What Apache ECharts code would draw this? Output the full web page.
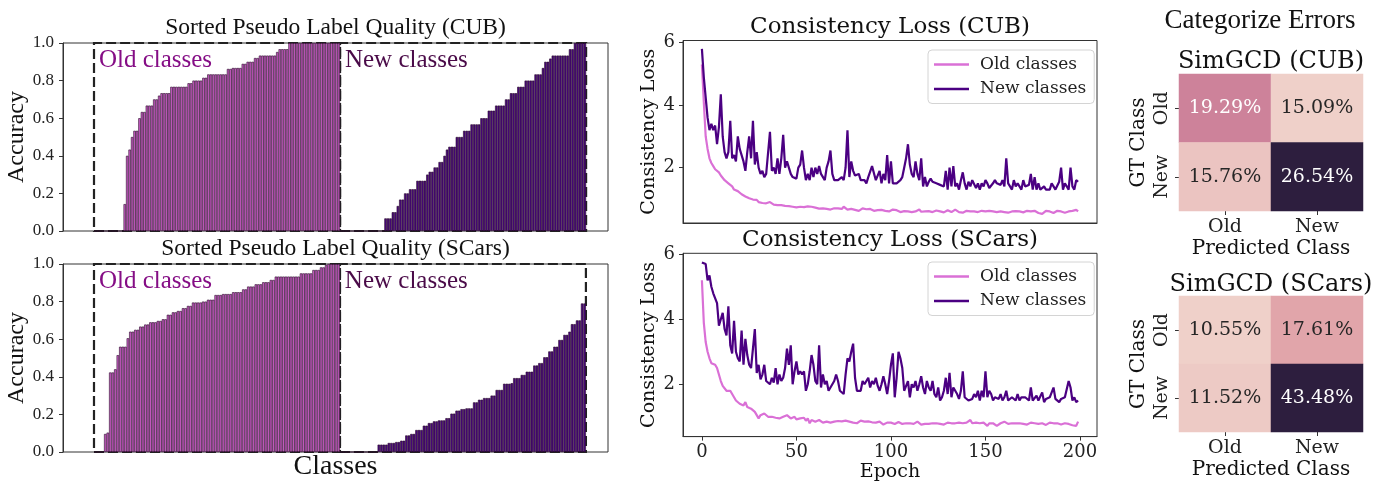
<!DOCTYPE html>
<html>
<head>
<meta charset="utf-8">
<title>Pseudo label quality, consistency loss, categorize errors</title>
<script src="https://cdn.jsdelivr.net/npm/echarts@6/dist/echarts.min.js"></script>
<style>
  html, body { margin: 0; padding: 0; background: #fff; }
  #chart { width: 1376px; height: 492px; }
</style>
</head>
<body>
<div id="chart"></div>
<script>
// sorted per-class pseudo label accuracy (old classes first, then new classes)
const cubOldAcc = [
  0, 0, 0, 0, 0, 0, 0, 0, 0, 0, 0, 0,
  0.143, 0.4, 0.433, 0.5, 0.533, 0.533, 0.6, 0.633, 0.633, 0.667,
  0.667, 0.667, 0.7, 0.7, 0.72, 0.733, 0.733, 0.733, 0.733,
  0.767, 0.767, 0.767, 0.767, 0.767, 0.767, 0.767, 0.786, 0.786,
  0.8, 0.8, 0.8, 0.8, 0.815, 0.815,
  0.833, 0.833, 0.833, 0.833, 0.833, 0.833, 0.833, 0.833, 0.862, 0.862,
  0.867, 0.867, 0.867, 0.867, 0.889, 0.889, 0.9, 0.9, 0.9, 0.92, 0.92,
  0.933, 0.933, 0.933, 0.933, 0.933, 0.933, 0.933, 0.952,
  0.967, 0.967, 0.967, 0.967,
  1, 1, 1, 1, 1, 1, 1, 1, 1, 1, 1, 1, 1, 1, 1, 1, 1, 1, 1, 1, 1,
];
const cubNewAcc = [
  0, 0, 0, 0, 0, 0, 0, 0, 0, 0, 0, 0, 0, 0, 0, 0, 0, 0,
  0.067, 0.067, 0.067, 0.1, 0.1, 0.133, 0.167, 0.167, 0.2, 0.2,
  0.222, 0.222, 0.222, 0.267, 0.267, 0.267, 0.267, 0.3, 0.315, 0.315,
  0.338, 0.338, 0.367, 0.367, 0.4, 0.433, 0.448, 0.448, 0.448,
  0.5, 0.5, 0.5, 0.533, 0.533, 0.533, 0.567, 0.567, 0.567, 0.567,
  0.6, 0.6, 0.6, 0.64, 0.64, 0.64, 0.667, 0.667, 0.667, 0.667,
  0.7, 0.7, 0.733, 0.733, 0.733, 0.767, 0.767, 0.767,
  0.8, 0.8, 0.8, 0.8, 0.833, 0.833, 0.833, 0.867, 0.9, 0.9, 0.917,
  0.933, 0.933, 0.933, 0.933, 0.933, 0.933, 0.933, 0.967, 0.967,
  1, 1, 1, 1, 1,
];
const scarsOldAcc = [
  0, 0, 0, 0,
  0.096, 0.103, 0.423, 0.423, 0.44, 0.515, 0.56, 0.56, 0.56, 0.605,
  0.64, 0.64, 0.65, 0.65, 0.667, 0.667, 0.678, 0.678, 0.69, 0.69, 0.69,
  0.697, 0.697, 0.706, 0.706, 0.73, 0.73, 0.743, 0.743, 0.75, 0.75,
  0.765, 0.765, 0.777, 0.777, 0.795, 0.795, 0.795, 0.795, 0.8, 0.8,
  0.81, 0.81, 0.81, 0.835, 0.835, 0.835, 0.84, 0.84, 0.84, 0.84,
  0.85, 0.85, 0.85, 0.85, 0.865, 0.865, 0.88, 0.88, 0.88,
  0.892, 0.892, 0.892, 0.903, 0.903, 0.903, 0.915, 0.915,
  0.933, 0.933, 0.933, 0.933, 0.933, 0.933, 0.933, 0.933, 0.933, 0.933,
  0.95, 0.95, 0.95, 0.95, 0.95, 0.968, 0.968, 0.968, 0.982, 0.982, 0.995,
  1, 1, 1, 1, 1,
];
const scarsNewAcc = [
  0, 0, 0, 0, 0, 0, 0, 0, 0, 0, 0, 0, 0, 0, 0,
  0.039, 0.039, 0.039, 0.039, 0.048, 0.048, 0.048, 0.053, 0.053,
  0.06, 0.06, 0.088, 0.088, 0.096, 0.096, 0.117, 0.117, 0.117,
  0.14, 0.14, 0.154, 0.154, 0.163, 0.163, 0.168, 0.168, 0.168,
  0.18, 0.18, 0.204, 0.204, 0.22, 0.22, 0.228, 0.228, 0.232, 0.232, 0.232,
  0.264, 0.264, 0.278, 0.278, 0.287, 0.287, 0.287, 0.3, 0.3,
  0.33, 0.33, 0.33, 0.363, 0.363, 0.363, 0.366, 0.393, 0.393, 0.393,
  0.41, 0.41, 0.427, 0.427, 0.427, 0.46, 0.46, 0.473, 0.473,
  0.504, 0.504, 0.535, 0.535, 0.56, 0.56, 0.596, 0.596, 0.623, 0.623,
  0.64, 0.68, 0.68, 0.7, 0.7, 0.79, 0.79,
];

// consistency loss per epoch (0..199)
const cubOldLoss = [
  5.3, 4.1, 3.0, 2.6, 2.3, 2.15, 2.05, 1.95, 1.9, 1.85,
  1.75, 1.7, 1.6, 1.55, 1.5, 1.45, 1.4, 1.3, 1.28, 1.25,
  1.2, 1.15, 1.1, 1.08, 1.05, 1.02, 1.0, 0.98, 0.95, 0.97,
  0.9, 0.88, 0.87, 0.88, 0.86, 0.87, 0.9, 0.85, 0.82, 0.8,
  0.8, 0.78, 0.8, 0.77, 0.78, 0.75, 0.77, 0.74, 0.75, 0.76,
  0.73, 0.77, 0.75, 0.78, 0.74, 0.72, 0.76, 0.73, 0.75, 0.7,
  0.72, 0.74, 0.69, 0.72, 0.7, 0.74, 0.68, 0.7, 0.66, 0.72,
  0.7, 0.66, 0.7, 0.72, 0.68, 0.75, 0.7, 0.66, 0.72, 0.68,
  0.7, 0.65, 0.68, 0.62, 0.66, 0.7, 0.64, 0.67, 0.63, 0.68,
  0.65, 0.62, 0.66, 0.64, 0.6, 0.65, 0.68, 0.62, 0.64, 0.6,
  0.63, 0.66, 0.6, 0.64, 0.62, 0.58, 0.63, 0.61, 0.65, 0.6,
  0.62, 0.58, 0.64, 0.6, 0.62, 0.66, 0.59, 0.62, 0.6, 0.57,
  0.61, 0.64, 0.58, 0.6, 0.63, 0.58, 0.6, 0.62, 0.57, 0.6,
  0.64, 0.6, 0.58, 0.62, 0.66, 0.6, 0.58, 0.62, 0.56, 0.6,
  0.62, 0.58, 0.6, 0.55, 0.6, 0.63, 0.58, 0.6, 0.62, 0.57,
  0.6, 0.58, 0.62, 0.56, 0.6, 0.64, 0.58, 0.55, 0.6, 0.62,
  0.58, 0.6, 0.56, 0.62, 0.6, 0.58, 0.61, 0.57, 0.6, 0.63,
  0.57, 0.6, 0.62, 0.56, 0.6, 0.58, 0.62, 0.6, 0.55, 0.6,
  0.52, 0.58, 0.62, 0.57, 0.6, 0.58, 0.55, 0.6, 0.62, 0.57,
  0.6, 0.58, 0.56, 0.62, 0.6, 0.57, 0.62, 0.6, 0.65, 0.6,
];
const cubNewLoss = [
  5.8, 4.9, 4.9, 3.6, 3.2, 3.4, 3.2, 3.35, 2.75, 3.3,
  4.35, 3.0, 2.5, 2.3, 2.5, 3.5, 2.3, 2.4, 2.2, 3.0,
  2.6, 2.6, 2.2, 1.9, 2.5, 3.0, 2.3, 3.5, 2.1, 2.5,
  2.0, 1.8, 1.9, 1.7, 1.8, 1.8, 3.15, 1.9, 2.0, 1.8,
  2.3, 1.8, 2.3, 3.05, 2.0, 2.2, 2.0, 1.8, 1.7, 1.7,
  1.65, 2.0, 2.1, 2.55, 2.0, 1.6, 1.8, 1.6, 2.0, 1.7,
  2.0, 1.8, 2.05, 1.8, 1.85, 1.6, 2.0, 2.2, 2.55, 1.8,
  1.6, 1.65, 1.6, 1.55, 1.7, 1.6, 2.0, 3.2, 1.7, 2.2,
  1.9, 1.75, 1.7, 1.8, 1.6, 1.55, 1.6, 1.5, 1.7, 1.7,
  2.05, 2.1, 1.6, 1.55, 1.9, 1.5, 1.8, 1.6, 2.4, 1.5,
  2.2, 1.5, 1.55, 1.5, 1.55, 1.6, 1.7, 2.0, 2.3, 2.75,
  2.1, 1.8, 1.7, 2.2, 1.8, 1.6, 2.3, 1.4, 1.7, 1.4,
  1.55, 1.65, 1.55, 1.5, 1.5, 1.5, 1.45, 1.4, 1.4, 1.9,
  1.3, 2.0, 1.4, 2.05, 1.4, 1.5, 1.3, 1.6, 1.85, 1.5,
  1.3, 1.55, 1.4, 1.6, 1.6, 1.35, 1.5, 1.3, 1.5, 1.4,
  1.6, 1.5, 1.35, 1.3, 1.5, 1.6, 1.5, 1.55, 1.45, 1.6,
  1.4, 2.3, 1.5, 1.4, 1.3, 1.6, 1.4, 1.5, 1.4, 1.3,
  1.6, 1.4, 1.35, 1.45, 1.8, 1.3, 1.7, 1.3, 1.5, 1.3,
  1.35, 1.4, 1.3, 1.35, 1.3, 1.5, 1.4, 1.3, 1.35, 1.55,
  2.0, 1.3, 1.5, 1.4, 1.3, 2.0, 1.4, 1.3, 1.6, 1.55,
];
const scarsOldLoss = [
  5.2, 3.9, 3.3, 3.0, 2.8, 2.65, 2.6, 2.6, 2.5, 2.3,
  2.1, 1.95, 1.9, 1.8, 1.75, 1.8, 1.75, 1.6, 1.5, 1.45,
  1.4, 1.45, 1.35, 1.45, 1.3, 1.3, 1.25, 1.2, 1.15, 1.05,
  0.95, 1.05, 1.0, 1.1, 1.05, 1.0, 0.95, 1.0, 0.95, 0.97,
  1.0, 0.95, 0.9, 1.0, 0.98, 1.05, 1.1, 0.95, 0.92, 1.0,
  0.92, 0.97, 0.95, 0.9, 0.97, 0.88, 0.95, 0.8, 0.9, 0.95,
  0.85, 0.88, 0.9, 0.85, 0.82, 0.88, 0.85, 0.9, 0.82, 0.86,
  0.85, 0.88, 0.87, 0.9, 0.86, 0.92, 0.88, 0.82, 0.85, 0.8,
  0.82, 0.85, 0.8, 0.82, 0.88, 0.83, 0.85, 0.8, 0.86, 0.8,
  0.83, 0.78, 0.82, 0.8, 0.85, 0.8, 0.76, 0.8, 0.82, 0.78,
  0.82, 0.8, 0.78, 0.8, 0.84, 0.8, 0.78, 0.82, 0.8, 0.78,
  0.8, 0.82, 0.78, 0.8, 0.85, 0.8, 0.76, 0.82, 0.78, 0.8,
  0.78, 0.82, 0.8, 0.76, 0.8, 0.83, 0.78, 0.8, 0.76, 0.8,
  0.82, 0.78, 0.8, 0.75, 0.8, 0.78, 0.82, 0.88, 0.8, 0.78,
  0.82, 0.8, 0.9, 0.8, 0.76, 0.82, 0.78, 0.8, 0.76, 0.82,
  0.78, 0.72, 0.8, 0.76, 0.8, 0.74, 0.72, 0.78, 0.8, 0.82,
  0.85, 0.8, 0.78, 0.82, 0.8, 0.76, 0.8, 0.78, 0.8, 0.82,
  0.78, 0.8, 0.76, 0.8, 0.82, 0.78, 0.8, 0.74, 0.78, 0.8,
  0.8, 0.78, 0.75, 0.8, 0.82, 0.78, 0.8, 0.76, 0.8, 0.78,
  0.76, 0.78, 0.8, 0.74, 0.78, 0.8, 0.74, 0.76, 0.72, 0.85,
];
const scarsNewLoss = [
  5.75, 5.72, 5.7, 5.2, 5.35, 5.0, 4.8, 4.85, 4.5, 3.8,
  4.0, 4.2, 3.7, 3.5, 4.4, 3.2, 2.95, 3.95, 3.0, 2.8,
  2.7, 3.65, 2.6, 3.4, 2.9, 2.6, 2.5, 2.45, 3.7, 2.35,
  2.6, 2.15, 2.3, 2.6, 2.1, 2.05, 2.0, 2.2, 2.05, 2.5,
  2.0, 2.3, 2.1, 2.2, 2.5, 3.1, 2.6, 3.2, 2.0, 2.4,
  2.7, 2.3, 2.4, 2.3, 2.4, 1.8, 2.0, 2.4, 2.9, 2.6,
  2.1, 2.0, 3.2, 1.9, 2.3, 2.0, 2.1, 1.8, 1.9, 2.0,
  2.1, 2.3, 2.1, 1.8, 1.75, 1.7, 2.3, 2.8, 2.7, 3.0,
  3.25, 2.2, 1.8, 1.8, 1.8, 2.1, 2.0, 2.1, 2.2, 1.9,
  2.1, 2.0, 2.2, 1.95, 1.8, 2.0, 2.25, 2.0, 1.7, 2.1,
  2.6, 2.95, 1.6, 2.2, 3.0, 2.8, 2.5, 1.8, 1.75, 2.1,
  1.6, 2.0, 1.9, 2.1, 1.8, 2.0, 2.25, 1.9, 1.7, 2.1,
  1.9, 1.8, 2.1, 1.7, 1.6, 1.9, 1.5, 1.6, 1.8, 2.2,
  1.7, 2.35, 1.6, 1.9, 1.8, 1.7, 1.55, 1.8, 2.4, 1.6,
  1.6, 1.5, 1.55, 1.55, 1.7, 1.6, 1.8, 1.5, 1.8, 1.6,
  2.4, 1.6, 1.8, 1.7, 1.5, 1.6, 1.55, 1.55, 1.7, 1.5,
  1.6, 1.8, 1.5, 1.55, 1.6, 1.55, 1.5, 1.7, 1.5, 1.6,
  1.55, 1.6, 1.55, 1.5, 1.9, 1.5, 1.55, 1.65, 1.5, 1.5,
  1.75, 1.45, 1.55, 1.5, 1.6, 1.6, 1.9, 1.55, 1.5, 1.45,
  1.55, 1.5, 1.6, 1.6, 2.1, 1.9, 1.5, 1.6, 1.45, 1.5,
];

// confusion of old / new split, rows = GT class, columns = predicted class (%)
const splitNames = ["Old", "New"];
const cubErrors = [
  [19.29, 15.09],
  [15.76, 26.54],
];
const scarsErrors = [
  [10.55, 17.61],
  [11.52, 43.48],
];

const TIMES = "Liberation Serif";
const DEJAVU = "DejaVu Serif";
const OLD_COLOR = "#da70d6";
const NEW_COLOR = "#4b0082";
const OLD_BAR = "#c95ec5";
const NEW_BAR = "#47087c";
const FRAME = "#333";
const CUBEHELIX = ["#efd0c9", "#e3a8ac", "#c97a96", "#975a83", "#5e3c68", "#2d1e3e"];

function barPoints(values, offset) {
  return values.map((v, i) => [offset + i, v]);
}

function linePoints(values) {
  return values.map((v, i) => [i, v]);
}

function heatPoints(matrix) {
  const flat = matrix.flat();
  const lo = Math.min(...flat);
  const hi = Math.max(...flat);
  const out = [];
  matrix.forEach((row, r) => {
    row.forEach((v, c) => {
      const t = (v - lo) / (hi - lo);
      out.push({
        value: [c, r, v],
        label: { color: t > 0.3 ? "#ffffff" : "#262626" },
      });
    });
  });
  return out;
}

function barSeries(values, offset, axis, color, regionName, regionColor) {
  return {
    type: "bar",
    xAxisIndex: axis,
    yAxisIndex: axis,
    data: barPoints(values, offset),
    barGap: "-100%",
    barCategoryGap: "0%",
    itemStyle: { color: color, borderColor: "#2a0a2a", borderWidth: 0.6 },
    silent: true,
    markArea: {
      silent: true,
      itemStyle: {
        color: "rgba(0,0,0,0)",
        borderColor: "#222",
        borderWidth: 2.2,
        borderType: [10, 4],
      },
      label: {
        show: true,
        position: "insideTopLeft",
        formatter: "{b}",
        color: regionColor,
        fontFamily: TIMES,
        fontSize: 25,
        distance: 6,
      },
      data: [
        [
          { name: regionName, xAxis: offset - 0.5, yAxis: 0 },
          { xAxis: offset + values.length - 0.5, yAxis: 1 },
        ],
      ],
    },
  };
}

function accAxisY(grid) {
  return {
    gridIndex: grid,
    type: "value",
    min: 0,
    max: 1,
    interval: 0.2,
    name: "Accuracy",
    nameLocation: "middle",
    nameGap: 33,
    nameTextStyle: { fontFamily: TIMES, fontSize: 24, color: "#111" },
    axisLine: { show: true, onZero: false, lineStyle: { color: FRAME, width: 1 } },
    axisTick: { show: true, inside: false, length: 4, lineStyle: { color: FRAME } },
    axisLabel: {
      margin: 9,
      fontFamily: TIMES,
      fontSize: 17,
      color: "#222",
      formatter: (v) => v.toFixed(1),
    },
    splitLine: { show: false },
  };
}

function lossAxisY(grid, lo, hi) {
  return {
    gridIndex: grid,
    type: "value",
    min: lo,
    max: hi,
    name: "Consistency Loss",
    nameLocation: "middle",
    nameGap: 24,
    nameTextStyle: { fontFamily: DEJAVU, fontSize: 19, color: "#111" },
    axisLine: { show: true, onZero: false, lineStyle: { color: FRAME, width: 1 } },
    axisTick: {
      show: true,
      inside: false,
      length: 4,
      customValues: [2, 4, 6],
      lineStyle: { color: FRAME },
    },
    axisLabel: {
      margin: 8,
      fontFamily: DEJAVU,
      fontSize: 18,
      color: "#222",
      customValues: [2, 4, 6],
    },
    splitLine: { show: false },
  };
}

function epochAxisX(grid, labelled) {
  return {
    gridIndex: grid,
    type: "value",
    min: -10,
    max: 209,
    name: labelled ? "Epoch" : "",
    nameLocation: "middle",
    nameGap: 24,
    nameTextStyle: { fontFamily: DEJAVU, fontSize: 19, color: "#111" },
    axisLine: { show: true, onZero: false, lineStyle: { color: FRAME, width: 1 } },
    axisTick: {
      show: labelled,
      inside: false,
      length: 4,
      customValues: [0, 50, 100, 150, 200],
      lineStyle: { color: FRAME },
    },
    axisLabel: {
      show: labelled,
      margin: 7,
      fontFamily: DEJAVU,
      fontSize: 18,
      color: "#222",
      customValues: [0, 50, 100, 150, 200],
    },
    splitLine: { show: false },
  };
}

function classAxisX(grid, lo, hi, named) {
  return {
    gridIndex: grid,
    type: "value",
    min: lo,
    max: hi,
    name: named ? "Classes" : "",
    nameLocation: "middle",
    nameGap: 1,
    nameTextStyle: { fontFamily: TIMES, fontSize: 28, color: "#111" },
    axisLine: { show: false, onZero: false },
    axisTick: { show: false },
    axisLabel: { show: false },
    splitLine: { show: false },
  };
}

function heatAxisX(grid) {
  return {
    gridIndex: grid,
    type: "category",
    data: splitNames,
    name: "Predicted Class",
    nameLocation: "middle",
    nameGap: 28,
    nameTextStyle: { fontFamily: DEJAVU, fontSize: 20, color: "#111" },
    axisLine: { show: false },
    axisTick: { show: true, alignWithLabel: true, length: 4, lineStyle: { color: FRAME } },
    axisLabel: { margin: 7, fontFamily: DEJAVU, fontSize: 19, color: "#222" },
    splitArea: { show: false },
  };
}

function heatAxisY(grid) {
  return {
    gridIndex: grid,
    type: "category",
    data: splitNames,
    inverse: true,
    name: "GT Class",
    nameLocation: "middle",
    nameRotate: 90,
    nameGap: 30,
    nameTextStyle: { fontFamily: DEJAVU, fontSize: 20, color: "#111" },
    axisLine: { show: false },
    axisTick: { show: true, alignWithLabel: true, length: 4, lineStyle: { color: FRAME } },
    axisLabel: { margin: 7, rotate: 90, fontFamily: DEJAVU, fontSize: 19, color: "#222" },
    splitArea: { show: false },
  };
}

function lossLegend(top) {
  return {
    data: ["Old classes", "New classes"],
    orient: "vertical",
    left: 928,
    top: top,
    padding: [6, 8, 6, 6],
    itemGap: 7.5,
    itemWidth: 35,
    itemHeight: 2.5,
    icon: "rect",
    selectedMode: false,
    backgroundColor: "rgba(255,255,255,0.85)",
    borderColor: "#d4d4d4",
    borderWidth: 1,
    borderRadius: 4,
    textStyle: { fontFamily: DEJAVU, fontSize: 17, color: "#222", padding: [0, 0, 0, 6] },
  };
}

function lossSeries(values, axis, name, color) {
  return {
    type: "line",
    name: name,
    xAxisIndex: axis,
    yAxisIndex: axis,
    data: linePoints(values),
    showSymbol: false,
    symbol: "none",
    color: color,
    lineStyle: { width: 2.2, color: color },
    silent: true,
  };
}

function heatSeries(matrix, axis) {
  return {
    type: "heatmap",
    xAxisIndex: axis,
    yAxisIndex: axis,
    data: heatPoints(matrix),
    silent: true,
    itemStyle: { borderWidth: 0 },
    label: {
      show: true,
      fontFamily: DEJAVU,
      fontSize: 19,
      formatter: (p) => p.value[2].toFixed(2) + "%",
    },
  };
}

function titleAt(text, x, top, font, size) {
  return {
    text: text,
    left: x,
    top: top,
    textAlign: "center",
    padding: 0,
    textStyle: { fontFamily: font, fontSize: size, fontWeight: "normal", color: "#111" },
  };
}

const chart = echarts.init(document.getElementById("chart"));
const cubSplit = cubOldAcc.length;
const scarsSplit = scarsOldAcc.length;

chart.setOption({
  animation: false,
  backgroundColor: "#fff",
  title: [
    titleAt("Sorted Pseudo Label Quality (CUB)", 335.5, 16, TIMES, 23.5),
    titleAt("Sorted Pseudo Label Quality (SCars)", 335.5, 237, TIMES, 23.5),
    titleAt("Consistency Loss (CUB)", 890, 16, DEJAVU, 23),
    titleAt("Consistency Loss (SCars)", 890, 229, DEJAVU, 23),
    titleAt("Categorize Errors", 1260, 7, TIMES, 27),
    titleAt("SimGCD (CUB)", 1271, 50, DEJAVU, 24),
    titleAt("SimGCD (SCars)", 1271, 273, DEJAVU, 24),
  ],
  legend: [lossLegend(50), lossLegend(262)],
  grid: [
    { left: 63, top: 43, width: 545, height: 188, show: true, borderColor: FRAME, borderWidth: 1 },
    { left: 63, top: 264, width: 545, height: 188, show: true, borderColor: FRAME, borderWidth: 1 },
    { left: 683, top: 40.5, width: 414, height: 182.5, show: true, borderColor: FRAME, borderWidth: 1 },
    { left: 683, top: 253.3, width: 414, height: 183.3, show: true, borderColor: FRAME, borderWidth: 1 },
    { left: 1179, top: 74, width: 184, height: 137, show: false },
    { left: 1179, top: 296, width: 184, height: 136, show: false },
  ],
  xAxis: [
    classAxisX(0, -13.1, 208.4, false),
    classAxisX(1, -12.85, 204.3, true),
    epochAxisX(2, false),
    epochAxisX(3, true),
    heatAxisX(4),
    heatAxisX(5),
  ],
  yAxis: [
    accAxisY(0),
    accAxisY(1),
    lossAxisY(2, 0.23, 6.07),
    lossAxisY(3, 0.39, 6.03),
    heatAxisY(4),
    heatAxisY(5),
  ],
  visualMap: [
    {
      seriesIndex: 8,
      min: Math.min(...cubErrors.flat()),
      max: Math.max(...cubErrors.flat()),
      dimension: 2,
      show: false,
      inRange: { color: CUBEHELIX },
    },
    {
      seriesIndex: 9,
      min: Math.min(...scarsErrors.flat()),
      max: Math.max(...scarsErrors.flat()),
      dimension: 2,
      show: false,
      inRange: { color: CUBEHELIX },
    },
  ],
  series: [
    barSeries(cubOldAcc, 0, 0, OLD_BAR, "Old classes", "#850d85"),
    barSeries(cubNewAcc, cubSplit, 0, NEW_BAR, "New classes", "#4a0a48"),
    barSeries(scarsOldAcc, 0, 1, OLD_BAR, "Old classes", "#850d85"),
    barSeries(scarsNewAcc, scarsSplit, 1, NEW_BAR, "New classes", "#4a0a48"),
    lossSeries(cubOldLoss, 2, "Old classes", OLD_COLOR),
    lossSeries(cubNewLoss, 2, "New classes", NEW_COLOR),
    lossSeries(scarsOldLoss, 3, "Old classes", OLD_COLOR),
    lossSeries(scarsNewLoss, 3, "New classes", NEW_COLOR),
    heatSeries(cubErrors, 4),
    heatSeries(scarsErrors, 5),
  ],
});
</script>
</body>
</html>
